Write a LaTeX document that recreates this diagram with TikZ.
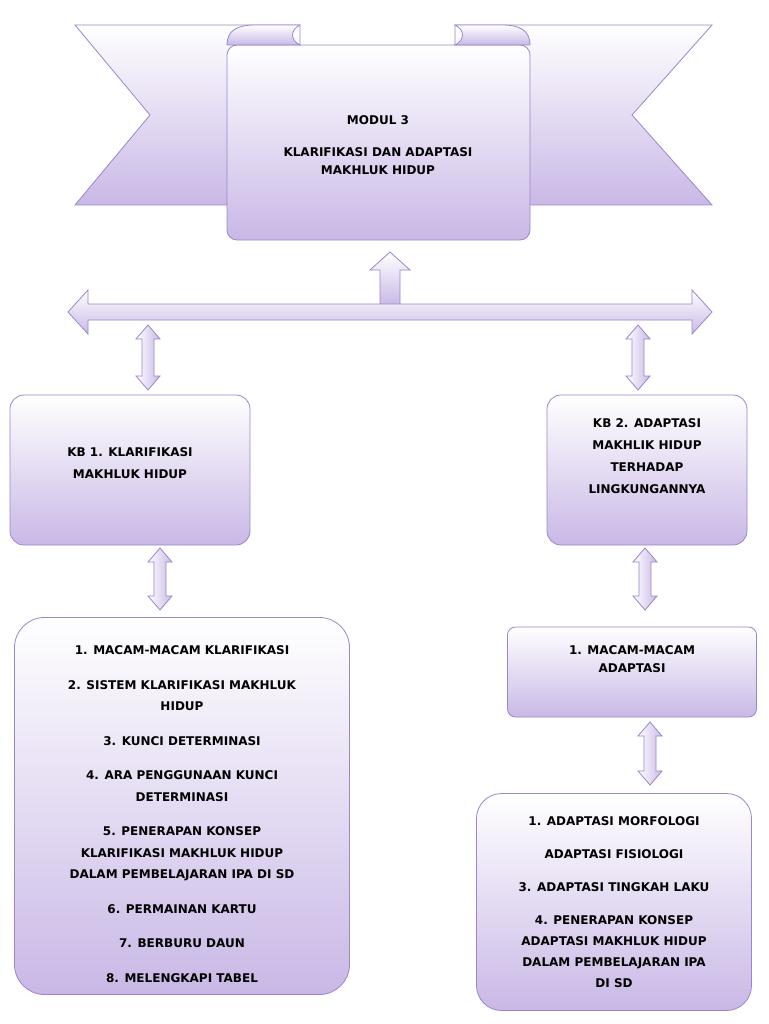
\documentclass[tikz,border=0pt]{standalone}
\usepackage{fontspec}
\setmainfont{DejaVu Sans}
\definecolor{lav}{HTML}{C9B8E6}
\definecolor{edge}{HTML}{9A86C8}
\tikzset{
  box/.style={draw=edge, line width=0.8pt, rounded corners=14pt, top color=white, bottom color=lav,
    align=center, font=\bfseries\fontsize{12}{18}\selectfont, inner sep=0pt},
  shp/.style={draw=edge, line width=0.8pt, top color=white, bottom color=lav},
  hshp/.style={draw=edge, line width=0.8pt, left color=white, right color=lav},
  txt/.style={align=center, font=\bfseries\fontsize{12}{21}\selectfont}
}
% vertical double arrow: x, top y, bottom y
\newcommand\vdbl[3]{\path[hshp] (#1,#2) -- (#1+12,#2+14) -- (#1+6,#2+14) -- (#1+6,#3-14) -- (#1+12,#3-14)
  -- (#1,#3) -- (#1-12,#3-14) -- (#1-6,#3-14) -- (#1-6,#2+14) -- (#1-12,#2+14) -- cycle;}
\begin{document}
\begin{tikzpicture}[x=1pt,y=-1pt]
\useasboundingbox (0,0) rectangle (768,1024);
% banner tails
\path[shp] (75,25) -- (300,25) -- (300,205) -- (75,205) -- (150,115) -- cycle;
\path[shp] (712,25) -- (455,25) -- (455,205) -- (712,205) -- (632,115) -- cycle;
% scroll
\path[shp, rounded corners=10pt] (227,45) -- (227,240) -- (530,240) -- (530,45) -- cycle;
\path[shp] (227,45) .. controls (227,30) and (238,25) .. (255,25) -- (300,25)
  .. controls (290,30) and (290,40) .. (300,45) -- cycle;
\path[shp] (530,45) .. controls (530,30) and (519,25) .. (502,25) -- (455,25)
  .. controls (465,30) and (465,40) .. (455,45) -- cycle;
\node[align=center, font=\bfseries\fontsize{12}{18}\selectfont] (title) at (378,145)
  {MODUL 3\\[14pt]KLARIFIKASI DAN ADAPTASI\\MAKHLUK HIDUP};
% arrows
\path[shp] (390,252) -- (410,270) -- (400,270) -- (400,305) -- (380,305) -- (380,270) -- (370,270) -- cycle;
\path[shp] (68,312) -- (88,290) -- (88,304) -- (692,304) -- (692,290) -- (712,312) -- (692,334)
  -- (692,320) -- (88,320) -- (88,334) -- cycle;
\vdbl{148}{325}{390}
\vdbl{638}{325}{390}
\vdbl{160}{548}{610}
\vdbl{645}{548}{610}
\vdbl{650}{722}{785}
% boxes
\node[box, minimum width=240pt, minimum height=150pt] (kb1) at (130,470) {};
\node[txt, font=\bfseries\fontsize{12}{22}\selectfont] at (130,463) {KB 1. KLARIFIKASI\\MAKHLUK HIDUP};
\node[box, minimum width=200pt, minimum height=150pt, font=\bfseries\fontsize{12}{22}\selectfont] (kb2) at (647,470)
  {KB 2. ADAPTASI\\MAKHLIK HIDUP\\TERHADAP\\LINGKUNGANNYA\\[6pt]};
\node[box, rounded corners=30pt, minimum width=335pt, minimum height=377pt] (lst) at (182,806) {};
\node[txt, font=\bfseries\fontsize{12}{21.5}\selectfont] at (182,814)
  {1. MACAM-MACAM KLARIFIKASI\\[13pt]2. SISTEM KLARIFIKASI MAKHLUK\\HIDUP\\[13pt]3. KUNCI DETERMINASI\\[13pt]
   4. ARA PENGGUNAAN KUNCI\\DETERMINASI\\[13pt]5. PENERAPAN KONSEP\\KLARIFIKASI MAKHLUK HIDUP\\
   DALAM PEMBELAJARAN IPA DI SD\\[13pt]6. PERMAINAN KARTU\\[13pt]7. BERBURU DAUN\\[13pt]8. MELENGKAPI TABEL};
\node[box, rounded corners=8pt, minimum width=249pt, minimum height=90pt] (mac) at (632,672)
  {1. MACAM-MACAM\\ADAPTASI\\[8pt]};
\node[box, rounded corners=25pt, minimum width=275pt, minimum height=217pt,
  font=\bfseries\fontsize{12}{21}\selectfont] (ad) at (614,902)
  {1. ADAPTASI MORFOLOGI\\[12pt]ADAPTASI FISIOLOGI\\[12pt]3. ADAPTASI TINGKAH LAKU\\[12pt]
   4. PENERAPAN KONSEP\\ADAPTASI MAKHLUK HIDUP\\DALAM PEMBELAJARAN IPA\\DI SD};
\end{tikzpicture}
\end{document}
